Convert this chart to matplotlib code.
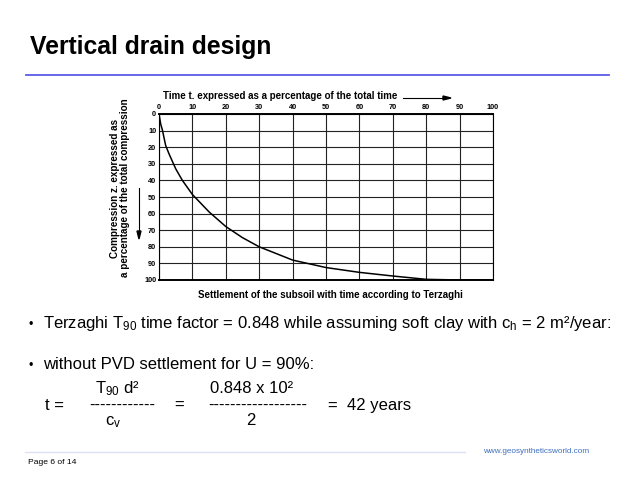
import numpy as np
import matplotlib.pyplot as plt

plt.rcParams['font.family'] = ['Liberation Sans', 'DejaVu Sans']
plt.rcParams['mathtext.fontset'] = 'custom'
plt.rcParams['mathtext.rm'] = 'Liberation Sans'
plt.rcParams['mathtext.it'] = 'Liberation Sans:italic'
plt.rcParams['mathtext.bf'] = 'Liberation Sans:bold'

# curve: time % -> compression %
time_pct = [0, 0.5, 1, 2, 3, 5, 7, 10, 15, 20, 25, 30, 40, 50, 60, 70, 80, 90, 100]
compression_pct = [0, 6, 9.5, 19, 24, 33, 40, 48.5, 59, 67.8, 74.5, 80, 88, 92.5, 95.4, 97.6, 99.6, 100, 100]
ticks = list(range(0, 101, 10))

W, H = 638, 478
fig = plt.figure(figsize=(W / 100, H / 100), dpi=100)

def px(x, y):
  return x / W, 1 - y / H

# slide header
fig.text(*px(30, 54), 'Vertical drain design', fontsize=17.8, fontweight='bold', va='baseline', ha='left')
fig.add_artist(plt.Line2D([26 / W, 609 / W], [1 - 75 / H] * 2, color='#5c5ce8', lw=1.3))

# chart
ax = fig.add_axes([159 / W, 1 - 280 / H, 334 / W, 166 / H])
ax.plot(time_pct, compression_pct, color='black', lw=1.1)
ax.set_xlim(0, 100)
ax.set_ylim(100, 0)
ax.set_xticks(ticks)
ax.set_yticks(ticks)
ax.xaxis.tick_top()
ax.tick_params(length=0, labelsize=5.3, pad=2)
for lab in ax.get_xticklabels() + ax.get_yticklabels():
  lab.set_fontweight('bold')
ax.grid(True, color='#222222', lw=0.8)
for s in ax.spines.values():
  s.set_linewidth(0.8)
ax.spines['top'].set_linewidth(1.4)
ax.spines['bottom'].set_linewidth(1.4)

fig.text(*px(163, 96), 'Time t. expressed as a percentage of the total time',
         fontsize=7.0, fontweight='bold', va='center', ha='left')
fig.add_artist(plt.Line2D([403 / W, 445 / W], [1 - 98 / H] * 2, color='black', lw=0.8))
fig.add_artist(plt.Polygon([px(451, 98), px(443, 96), px(443, 100)], closed=True, color='black'))
fig.text(*px(120, 188), 'Compression z. expressed as\na percentage of the total compression',
         fontsize=7.1, fontweight='bold', rotation=90, va='center', ha='center', linespacing=1.05)
fig.add_artist(plt.Line2D([139 / W, 139 / W], [1 - 188 / H, 1 - 232 / H], color='black', lw=0.8))
fig.add_artist(plt.Polygon([px(139, 239), px(137, 231), px(141, 231)], closed=True, color='black'))
fig.text(*px(330, 295), 'Settlement of the subsoil with time according to Terzaghi',
         fontsize=7.05, fontweight='bold', va='center', ha='center')

# bullet text
fs = 12
fig.text(*px(31, 328), '\u2022', fontsize=9, va='baseline', ha='center')
fig.text(*px(43, 328), r'Terzaghi T$_{90}$ time factor = 0.848 while assuming soft clay with c$_{\mathrm{h}}$ = 2 m' + '\u00b2/year:',
         fontsize=fs, va='baseline')
fig.text(*px(31, 369), '\u2022', fontsize=9, va='baseline', ha='center')
fig.text(*px(43, 369), 'without PVD settlement for U = 90%:', fontsize=fs, va='baseline')
fig.text(*px(45, 410), 't =', fontsize=fs, va='baseline')
fig.text(*px(117, 393), r'T$_{90}$ d' + '\u00b2', fontsize=fs, va='baseline', ha='center')
fig.text(*px(122, 405), '------------', fontsize=fs, va='center', ha='center')
fig.text(*px(113, 425), r'c$_{\mathrm{v}}$', fontsize=fs, va='baseline', ha='center')
fig.text(*px(179, 410), '=', fontsize=fs, va='baseline', ha='center')
fig.text(*px(252, 393), '0.848 x 10\u00b2', fontsize=fs, va='baseline', ha='center')
fig.text(*px(258, 405), '------------------', fontsize=fs, va='center', ha='center')
fig.text(*px(251, 425), '2', fontsize=fs, va='baseline', ha='center')
fig.text(*px(328, 410), '=  42 years', fontsize=fs, va='baseline', ha='left')

# footer
fig.add_artist(plt.Line2D([25 / W, 465 / W], [1 - 452 / H] * 2, color='#dcdff7', lw=1))
fig.text(*px(28, 464), 'Page 6 of 14', fontsize=6.1, va='baseline')
fig.text(*px(483, 453), 'www.geosyntheticsworld.com', fontsize=5.9, va='baseline', ha='left', color='#3f6fc0')

fig.savefig('out.png', dpi=100)
